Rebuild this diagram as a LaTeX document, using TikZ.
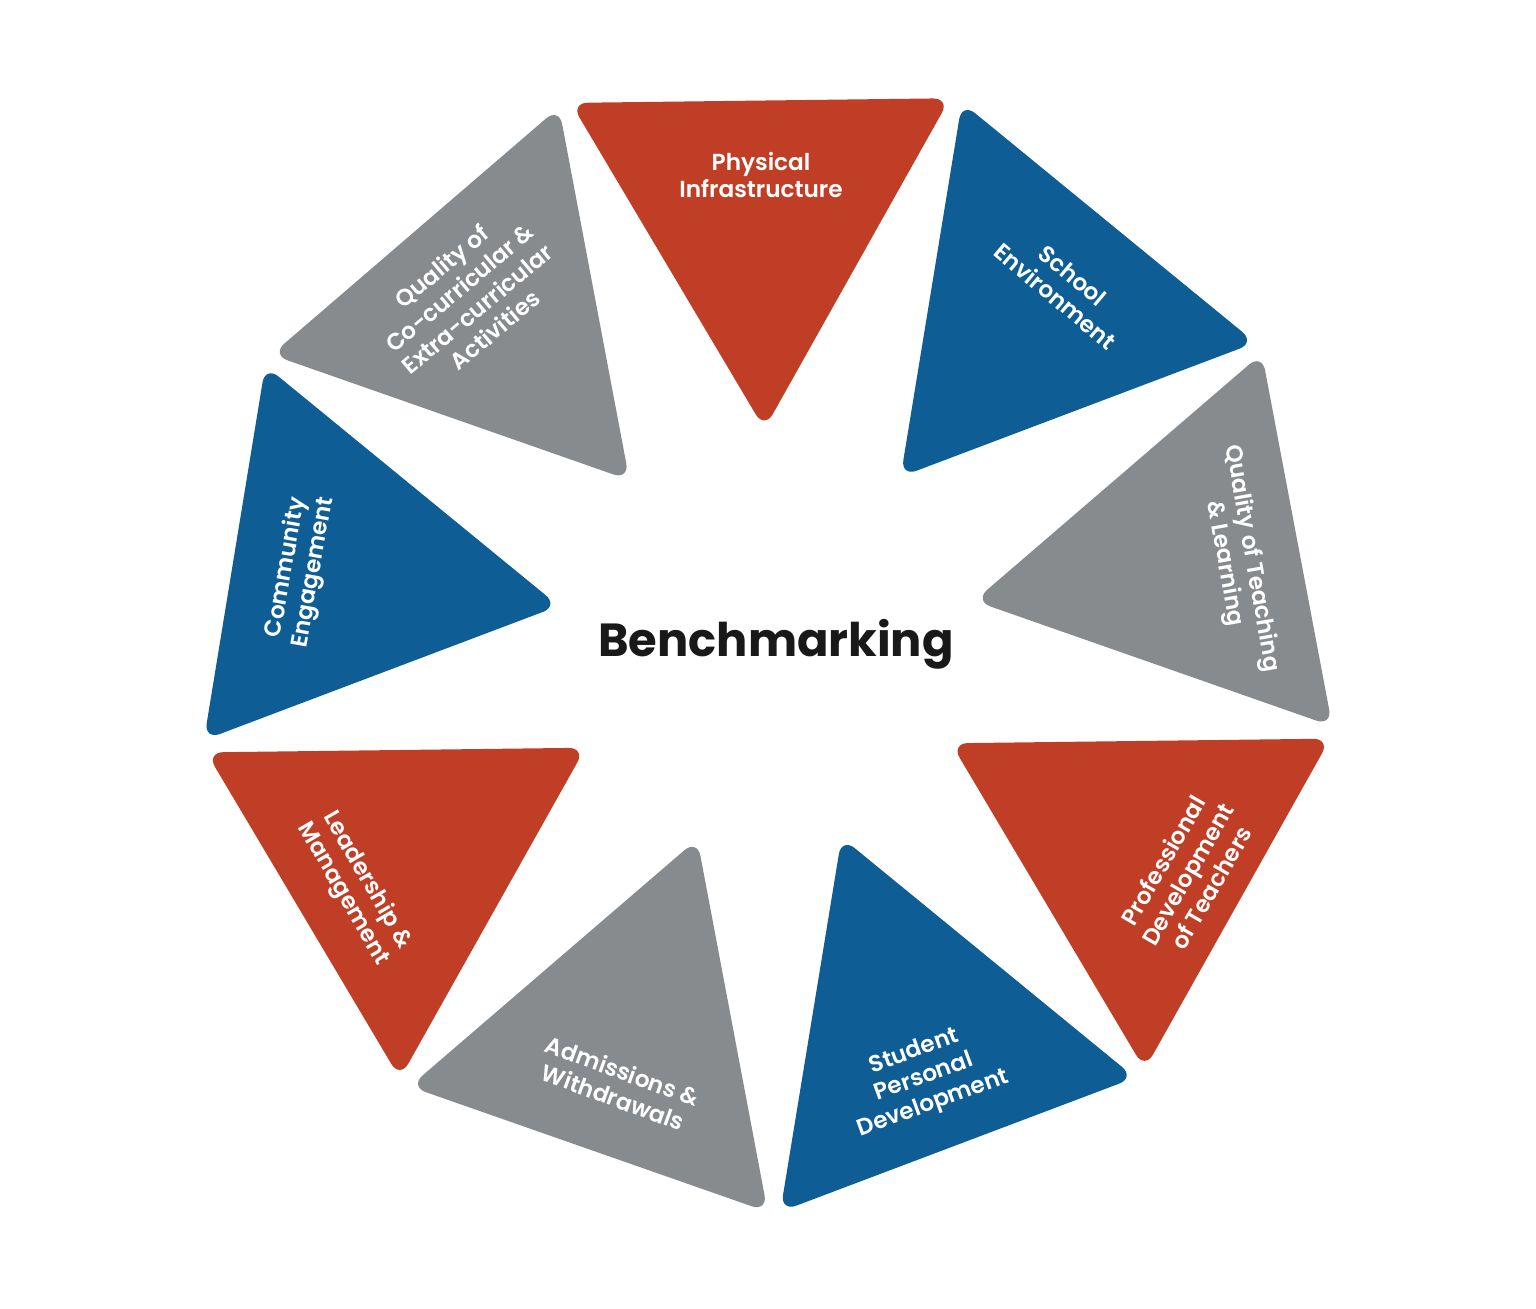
\documentclass[tikz,border=0pt]{standalone}
\usepackage{fontspec}
\setmainfont{Poppins}
\newfontfamily\labelfont{Poppins SemiBold}
\usetikzlibrary{calc,shapes.geometric,positioning}
\definecolor{brick}{HTML}{C03E26}
\definecolor{navy}{HTML}{0E5E95}
\definecolor{slate}{HTML}{888B8D}
\tikzset{tri/.style={regular polygon, regular polygon sides=3, minimum size=219pt, inner sep=0pt, rounded corners=8.5pt}, lbl/.style={text=white, align=center, font=\labelfont\fontsize{11.6}{13.8}\selectfont}}

\begin{document}
\begin{tikzpicture}[x=0.5pt,y=0.5pt]
    \useasboundingbox (0,0) rectangle (1536,-1308);
    \coordinate (C) at (767,-640);
    \foreach \i/\c in {1/brick,2/navy,3/slate,4/brick,5/navy,6/slate,7/brick,8/navy,9/slate}
        \node[tri,fill=\c,rotate={180.7-40*(\i-1)}] (T\i) at ($(C)+({90.7-40*(\i-1)}:430)$) {};
    \node[lbl] (L1) at (761,-175) {Physical\\Infrastructure};
    \node[lbl,rotate=-40] (L2) at (1064,-286) {School\\Environment};
    \node[lbl,rotate=-80] (L3) at (1238,-561) {Quality of Teaching\\\& Learning};
    \node[lbl,rotate=60] (L4) at (1187,-874) {Professional\\Development\\of Teachers};
    \node[lbl,rotate=20] (L5) at (924,-1078) {Student\\Personal\\Development};
    \node[lbl,rotate=-20] (L6) at (618,-1084) {Admissions \&\\Withdrawals};
    \node[lbl,rotate=-60] (L7) at (355,-887) {Leadership \&\\Management};
    \node[lbl,rotate=80] (L8) at (300,-570) {Community\\Engagement};
    \node[lbl,rotate=40] (L9) at (468,-298) {Quality of\\Co-curricular \&\\Extra-curricular\\Activities};
    \node[font=\bfseries\fontsize{23.2}{28}\selectfont,text=black!90] (B) at (776,-644) {Benchmarking};
\end{tikzpicture}
\end{document}
